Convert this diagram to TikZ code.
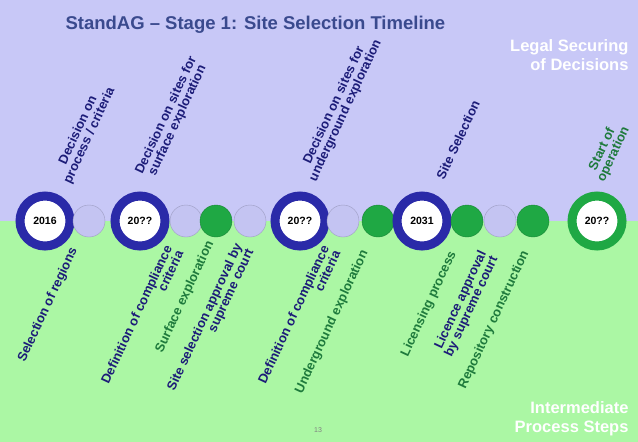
\documentclass[tikz,border=0pt]{standalone}
\usepackage{fontspec}
\setmainfont{Liberation Sans}
\begin{document}
\begin{tikzpicture}[x=1pt,y=-1pt,
  lab/.style={font=\bfseries\fontsize{13}{12.5}\selectfont, rotate=65, inner sep=0pt},
  up/.style={lab, align=center, text=navy},
  dn/.style={lab, align=right, text=navy},
  gn/.style={text=dgreen},
  ring/.style={circle, draw=ringblue, line width=9pt, fill=white, minimum size=50pt, inner sep=0pt, font=\bfseries\fontsize{10.5}{10.5}\selectfont},
  lite/.style={circle, fill=liteb, draw=liteb!80!black, minimum size=32pt},
  grn/.style={circle, fill=midg, draw=midg!80!black, minimum size=32pt}]
\definecolor{navy}{HTML}{1C1C78}
\definecolor{dgreen}{HTML}{1E7A3C}
\definecolor{ringblue}{HTML}{2A2AA8}
\definecolor{liteb}{HTML}{C4C4F2}
\definecolor{midg}{HTML}{1FA844}
\definecolor{topbg}{HTML}{C8C8F7}
\definecolor{botbg}{HTML}{ABF7A4}
\definecolor{titlec}{HTML}{3A4A8E}
\useasboundingbox (0,0) rectangle (638,442);
\fill[topbg] (0,0) rectangle (638,221);
\fill[botbg] (0,221) rectangle (638,442);
\node[font=\bfseries\fontsize{18.5}{18.5}\selectfont, text=titlec, anchor=west] (title) at (62,25) {StandAG -- Stage 1: Site Selection Timeline};
\node[font=\bfseries\fontsize{16.5}{19}\selectfont, text=white, align=right, anchor=north east] (legal) at (632,36) {Legal Securing\\of Decisions};
\node[font=\bfseries\fontsize{16.5}{19}\selectfont, text=white, align=right, anchor=south east] (inter) at (632,439) {Intermediate\\Process Steps};
\node[font=\fontsize{7}{7}\selectfont, text=gray] (pg) at (318,430) {13};
% timeline
\node[ring] (t1) at (45,221) {2016};
\node[lite] (a1) at (89,221) {};
\node[ring] (t2) at (140,221) {20??};
\node[lite] (a2) at (186,221) {};
\node[grn] (g1) at (216,221) {};
\node[lite] (a3) at (250,221) {};
\node[ring] (t3) at (300,221) {20??};
\node[lite] (a4) at (343,221) {};
\node[grn] (g2) at (378,221) {};
\node[ring] (t4) at (422,221) {2031};
\node[grn] (g3) at (467,221) {};
\node[lite] (a5) at (500,221) {};
\node[grn] (g4) at (533,221) {};
\node[ring, draw=midg] (t5) at (597,221) {20??};
% top labels
\node[up] (u1) at (84,133) {Decision on\\process / criteria};
\node[up] (u2) at (172,118) {Decision on sites for\\surface exploration};
\node[up] (u3) at (340,108) {Decision on sites for\\underground exploration};
\node[up] (u4) at (458,140) {Site Selection};
\node[up, text=dgreen] (u5) at (608,152) {Start of\\operation};
% bottom labels
\node[dn] (d1) at (48,305) {Selection of regions};
\node[dn] (d2) at (142,317) {Definition of compliance\\criteria};
\node[dn, gn] (d3) at (185,297) {Surface exploration};
\node[dn] (d4) at (211,320) {Site selection approval by\\supreme court};
\node[dn] (d5) at (299,317) {Definition of compliance\\criteria};
\node[dn, gn] (d6) at (332,322) {Underground exploration};
\node[dn, gn] (d7) at (429,304) {Licensing process};
\node[dn] (d8) at (466,304) {Licence approval\\by supreme court};
\node[dn, gn] (d9) at (494,320) {Repository construction};
\end{tikzpicture}
\end{document}
